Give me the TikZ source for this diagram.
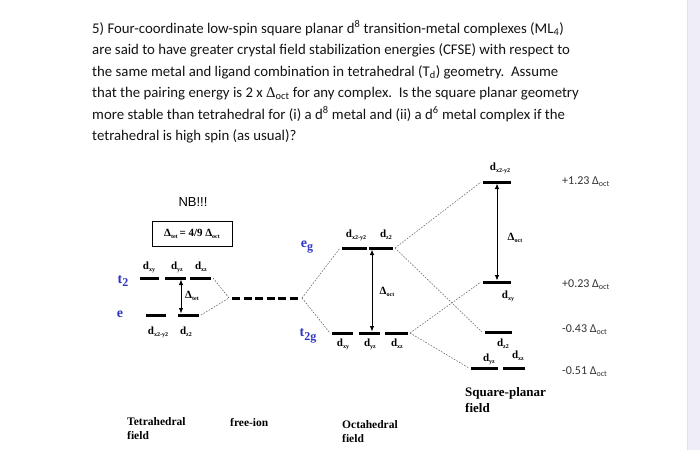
\documentclass[tikz,border=0pt]{standalone}
\usepackage{fontspec}
\setmainfont{Liberation Serif}
\newfontfamily\calfont{Carlito}
\newfontfamily\arialfont{Liberation Sans}
\usetikzlibrary{arrows.meta}
\definecolor{stripe}{HTML}{EFEEF6}
\definecolor{stripeedge}{HTML}{E2E1EA}
\definecolor{lblue}{HTML}{2E34C8}
\definecolor{qtext}{HTML}{141414}
\definecolor{elabel}{HTML}{333333}
\newcommand{\dlab}[1]{\textbf{d}\raisebox{-0.45ex}{\fontsize{6}{6}\selectfont\textbf{#1}}}
\newcommand{\Dl}[1]{\textbf{Δ}\raisebox{-0.45ex}{\fontsize{6}{6}\selectfont\textbf{#1}}}
\newcommand{\Doct}{Δ\raisebox{-0.35ex}{\fontsize{8}{8}\selectfont oct}}
\tikzset{
  lvl/.style={line width=3pt},
  conn/.style={gray!80!black, line width=0.55pt, dash pattern=on 1.6pt off 1.4pt},
  gap/.style={line width=0.9pt, {Latex[length=5.5pt,width=4.5pt]}-{Latex[length=5.5pt,width=4.5pt]}},
  qline/.style={anchor=base west, inner sep=0pt, font=\calfont\fontsize{14.8}{16}\selectfont, text=qtext},
  dl/.style={inner sep=0pt, font=\fontsize{11}{12}\selectfont},
  blab/.style={inner sep=0pt, text=lblue, font=\bfseries\fontsize{14}{15}\selectfont},
  elab/.style={anchor=west, inner sep=0pt, text=elabel, font=\calfont\fontsize{12}{13}\selectfont},
  flab/.style={anchor=west, inner sep=0pt, align=left, font=\bfseries\fontsize{11.5}{14}\selectfont}
}
\begin{document}
\begin{tikzpicture}[x=1pt,y=-1pt]
\useasboundingbox (0,0) rectangle (700,450);
\fill[white] (0,0) rectangle (687,450);
\fill[stripe] (687,0) rectangle (700,450);
\draw[stripeedge, line width=1pt] (687.5,0) -- (687.5,450);

% question text
\node[qline] (q1) at (92,33) {5) Four-coordinate low-spin square planar d\textsuperscript{8} transition-metal complexes (ML\textsubscript{4})};
\node[qline] (q2) at (92,54.5) {are said to have greater crystal field stabilization energies (CFSE) with respect to};
\node[qline] (q3) at (92,76) {the same metal and ligand combination in tetrahedral (T\textsubscript{d}) geometry.\ \ Assume};
\node[qline] (q4) at (92,97.5) {that the pairing energy is 2 x {\rmfamily Δ}\textsubscript{oct} for any complex.\ \ Is the square planar geometry};
\node[qline] (q5) at (92,119) {more stable than tetrahedral for (i) a d\textsuperscript{8} metal and (ii) a d\textsuperscript{6} metal complex if the};
\node[qline] (q6) at (92,140.5) {tetrahedral is high spin (as usual)?};

% NB and box
\node[inner sep=0pt, font=\arialfont\fontsize{13}{13}\selectfont] (nb) at (193,202) {NB!!!};
\node[draw, line width=0.8pt, minimum width=80pt, minimum height=25pt, inner sep=2pt, font=\fontsize{11}{12}\selectfont] (box) at (192,234) {\Dl{tet}\,\textbf{= 4/9 }\Dl{oct}};

% level coordinates
\coordinate (ta1) at (140,278); \coordinate (tb1) at (159,278);
\coordinate (ta2) at (165,278); \coordinate (tb2) at (186,278);
\coordinate (ta3) at (190,278); \coordinate (tb3) at (211,278);
\coordinate (ea1) at (146,315); \coordinate (eb1) at (166,315);
\coordinate (ea2) at (178,315); \coordinate (eb2) at (199,315);
\coordinate (fa) at (232,298); \coordinate (fb) at (298,298);
\coordinate (ga1) at (342,248); \coordinate (gb1) at (367,248);
\coordinate (ga2) at (369,248); \coordinate (gb2) at (393,248);
\coordinate (ha1) at (332,333); \coordinate (hb1) at (353,333);
\coordinate (ha2) at (359,333); \coordinate (hb2) at (380,333);
\coordinate (ha3) at (385,333); \coordinate (hb3) at (408,333);
\coordinate (sa1) at (483,182); \coordinate (sb1) at (511,182);
\coordinate (sa2) at (483,282); \coordinate (sb2) at (511,282);
\coordinate (sa3) at (485,332); \coordinate (sb3) at (512,332);
\coordinate (sa4) at (471,368); \coordinate (sb4) at (498,368);
\coordinate (sa5) at (503,368); \coordinate (sb5) at (525,368);

% levels
\foreach \i in {1,2,3} {\draw[lvl] (ta\i) -- (tb\i); \draw[lvl] (ha\i) -- (hb\i);}
\foreach \i in {1,2} {\draw[lvl] (ea\i) -- (eb\i); \draw[lvl] (ga\i) -- (gb\i);}
\foreach \i in {1,...,5} {\draw[lvl] (sa\i) -- (sb\i);}
\draw[lvl, dash pattern=on 8pt off 3.5pt] (fa) -- (fb);

% connectors
\coordinate (fl) at (229,298); \coordinate (fr) at (302,298);
\draw[conn] ([xshift=2pt]tb3) -- (fl);
\draw[conn] ([xshift=2pt]eb2) -- (fl);
\draw[conn] (fr) -- ([xshift=-2pt]ga1);
\draw[conn] (fr) -- ([xshift=-2pt]ha1);
\draw[conn] ([xshift=2pt]gb2) -- ([xshift=-2pt]sa1);
\draw[conn] ([xshift=2pt]gb2) -- ([xshift=-3pt]sa3);
\draw[conn] ([xshift=2pt]hb3) -- ([xshift=-2pt]sa2);
\draw[conn] ([xshift=2pt]hb3) -- ([xshift=-2pt]sa4);

% gap arrows
\coordinate (tt) at (181,279.5); \coordinate (te) at (181,313.5);
\draw[gap] (tt) -- (te);
\coordinate (ot) at (372,249.5); \coordinate (ob) at (372,331.5);
\draw[gap] (ot) -- (ob);
\coordinate (st) at (497,183.5); \coordinate (sbt) at (497,280.5);
\draw[gap] (st) -- (sbt);
\node[dl] (ltet) at (192,296) {\Dl{tet}};
\node[dl] (loct) at (387,292) {\Dl{oct}};
\node[dl] (lsp) at (515,238) {\Dl{oct}};

% tetrahedral labels
\node[blab] (t2) at (123,281) {t\raisebox{-0.6ex}{\fontsize{12}{12}\selectfont 2}};
\node[blab] (e) at (120,314) {e};
\node[dl] (dxyT) at (149,267) {\dlab{xy}};
\node[dl] (dyzT) at (177,267) {\dlab{yz}};
\node[dl] (dxzT) at (201,267) {\dlab{xz}};
\node[dl] (dx2T) at (158,332) {\dlab{x2-y2}};
\node[dl] (dz2T) at (186,332) {\dlab{z2}};

% octahedral labels
\node[blab] (eg) at (307,247) {e\raisebox{-0.6ex}{\fontsize{12}{12}\selectfont g}};
\node[blab] (t2g) at (308,336) {t\raisebox{-0.6ex}{\fontsize{12}{12}\selectfont 2g}};
\node[dl] (dx2O) at (356,235) {\dlab{x2-y2}};
\node[dl] (dz2O) at (386,235) {\dlab{z2}};
\node[dl] (dxyO) at (343,344) {\dlab{xy}};
\node[dl] (dyzO) at (370,344) {\dlab{yz}};
\node[dl] (dxzO) at (397,344) {\dlab{xz}};

% square planar labels
\node[dl] (dx2S) at (500,168) {\dlab{x2-y2}};
\node[dl] (dxyS) at (508,296) {\dlab{xy}};
\node[dl] (dz2S) at (503,344) {\dlab{z2}};
\node[dl] (dyzS) at (489,359) {\dlab{yz}};
\node[dl] (dxzS) at (518,356) {\dlab{xz}};

% energies
\node[elab] (e1) at (562,182) {+1.23 \Doct};
\node[elab] (e2) at (562,285) {+0.23 \Doct};
\node[elab] (e3) at (562,330) {-0.43 \Doct};
\node[elab] (e4) at (562,372) {-0.51 \Doct};

% field labels
\node[flab, font=\bfseries\fontsize{13}{16}\selectfont] (fsp) at (465,400) {Square-planar\\field};
\node[flab] (ftet) at (127,429) {Tetrahedral\\field};
\node[flab] (ffree) at (230,422) {free-ion};
\node[flab] (foct) at (342,432) {Octahedral\\field};
\end{tikzpicture}
\end{document}
